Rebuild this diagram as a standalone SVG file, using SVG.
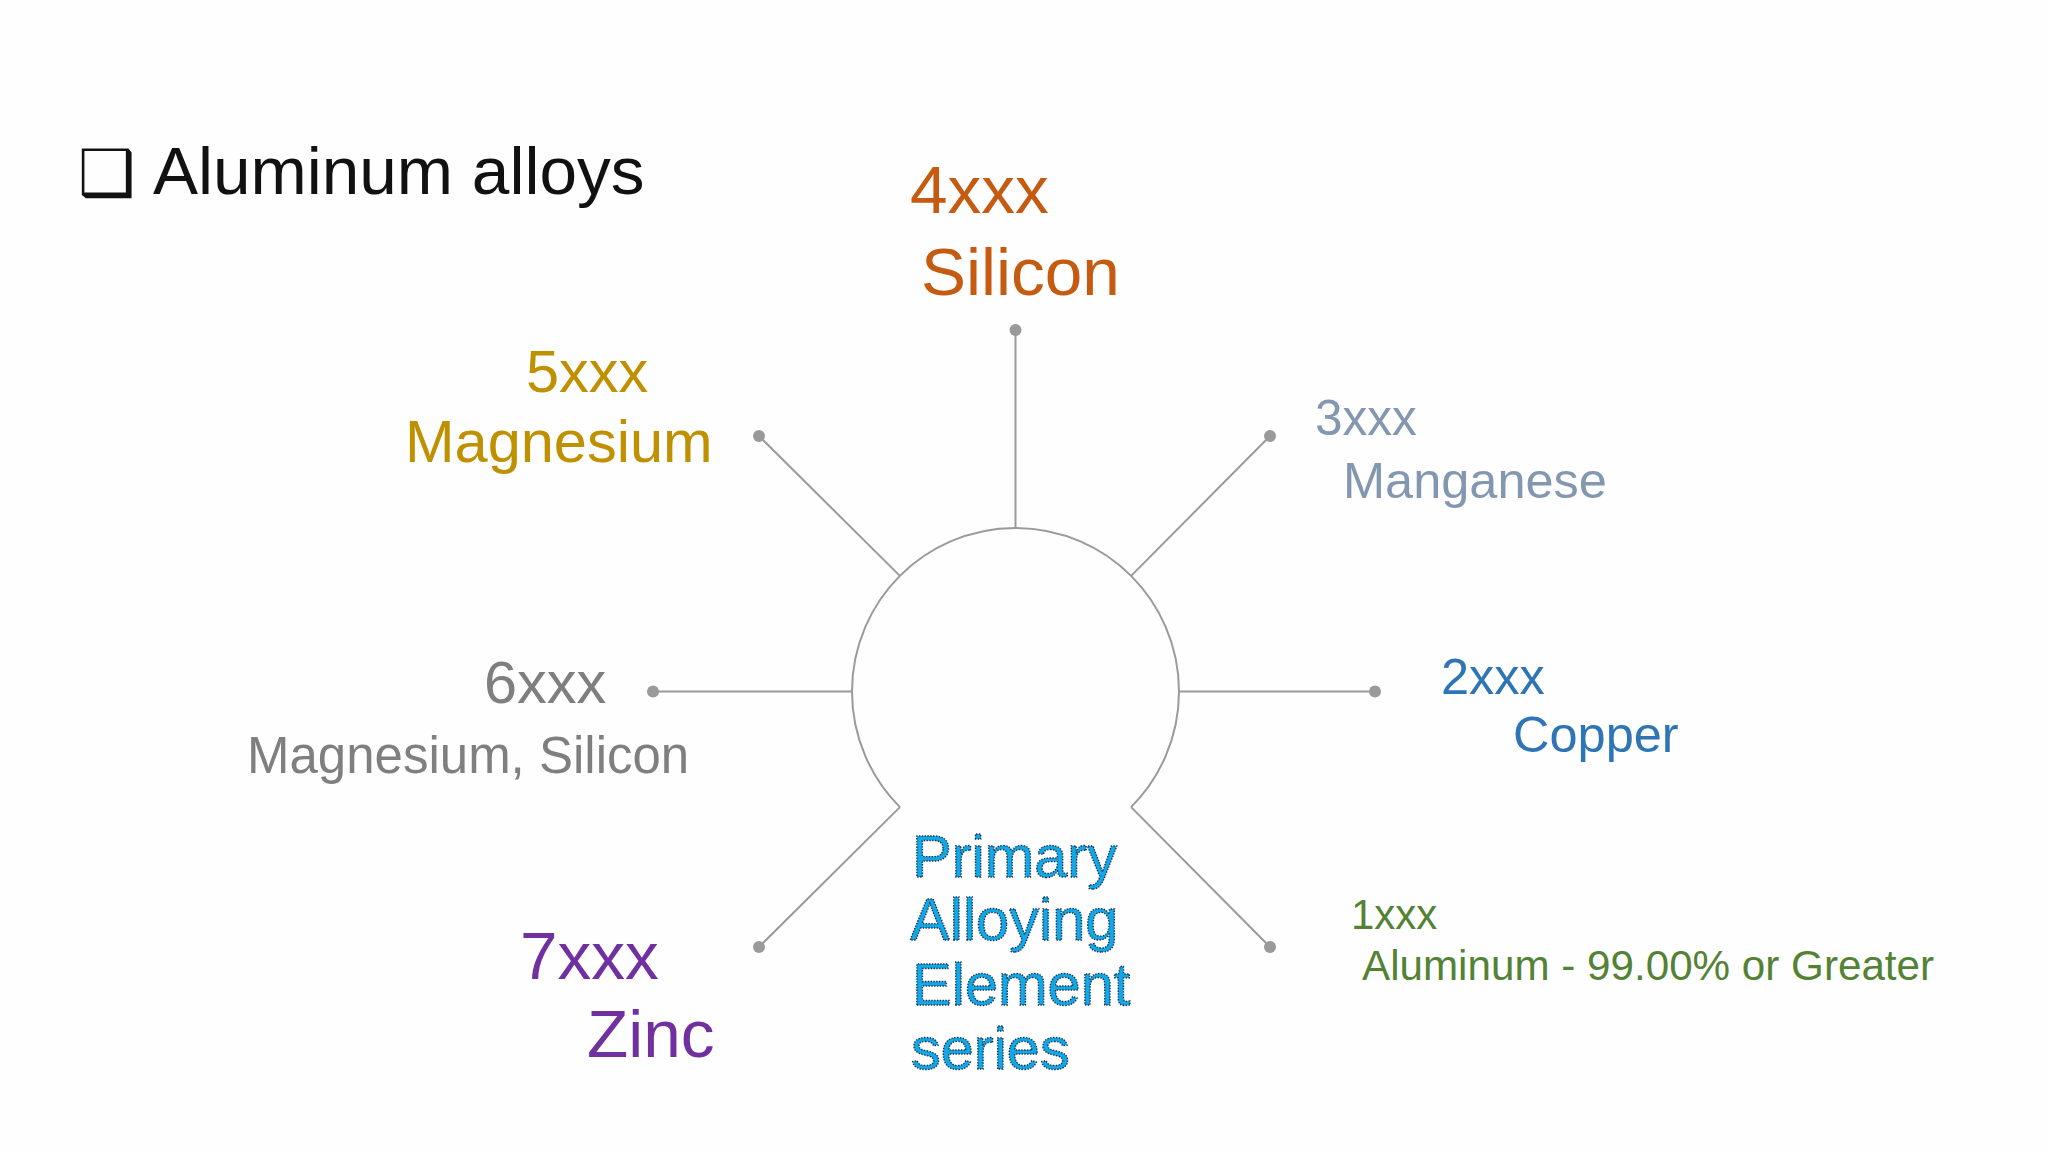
<svg xmlns="http://www.w3.org/2000/svg" width="2048" height="1152" viewBox="0 0 2048 1152">
<style>
text{font-family:"Liberation Sans",Arial,sans-serif}
.ln{stroke:#9a9a9a;stroke-width:2;fill:none}
.dot{fill:#9a9a9a}
.prim{fill:#12a8e6;stroke:#1c2c4c;stroke-width:1.4;stroke-dasharray:1.4 1.4}
</style>
<rect width="2048" height="1152" fill="#fefefe"/>
<g id="title">
<text x="78" y="195" font-family="DejaVu Sans" font-size="64" fill="#111">❑</text>
<text x="153" y="194" font-size="67.5" fill="#111">Aluminum alloys</text>
</g>
<g id="connectors">
<line class="ln" x1="1015.5" y1="528" x2="1015.5" y2="330" stroke-width="3"/>
<line class="ln" x1="899.9" y1="575.9" x2="759" y2="436"/>
<line class="ln" x1="1131.1" y1="575.9" x2="1270" y2="436"/>
<line class="ln" x1="852" y1="691.5" x2="653" y2="691.5"/>
<line class="ln" x1="1179" y1="691.5" x2="1375" y2="691.5"/>
<line class="ln" x1="899.9" y1="807.1" x2="759" y2="947"/>
<line class="ln" x1="1131.1" y1="807.1" x2="1270" y2="947"/>
<circle class="dot" cx="1015.5" cy="330" r="6"/>
<circle class="dot" cx="759" cy="436" r="6"/>
<circle class="dot" cx="1270" cy="436" r="6"/>
<circle class="dot" cx="653" cy="691.5" r="6"/>
<circle class="dot" cx="1375" cy="691.5" r="6"/>
<circle class="dot" cx="759" cy="947" r="6"/>
<circle class="dot" cx="1270" cy="947" r="6"/>
</g>
<g id="center">
<path class="ln" d="M 899.9 807.1 A 163.5 163.5 0 1 1 1131.1 807.1"/>
<text class="prim" x="912" y="877" font-size="59.5">Primary</text>
<text class="prim" x="910" y="940" font-size="59.5">Alloying</text>
<text class="prim" x="912" y="1005" font-size="59.5">Element</text>
<text class="prim" x="911" y="1069" font-size="59.5">series</text>
</g>
<g id="n4xxx" fill="#C55A11">
<text x="910" y="213" font-size="67.5">4xxx</text>
<text x="921" y="295" font-size="67.5">Silicon</text>
</g>
<g id="n5xxx" fill="#BF9000">
<text x="526" y="392" font-size="59.5">5xxx</text>
<text x="405" y="462" font-size="59.5">Magnesium</text>
</g>
<g id="n3xxx" fill="#8497B0">
<text x="1315" y="435" font-size="49.5">3xxx</text>
<text x="1343" y="498" font-size="50.5">Manganese</text>
</g>
<g id="n6xxx" fill="#7F7F7F">
<text x="484" y="703" font-size="59.5">6xxx</text>
<text x="247" y="773" font-size="51">Magnesium, Silicon</text>
</g>
<g id="n2xxx" fill="#2E75B6">
<text x="1441" y="694" font-size="50.5">2xxx</text>
<text x="1513" y="752" font-size="50.5">Copper</text>
</g>
<g id="n7xxx" fill="#7030A0">
<text x="520" y="979" font-size="67.5">7xxx</text>
<text x="587" y="1057" font-size="67.5">Zinc</text>
</g>
<g id="n1xxx" fill="#548235">
<text x="1351" y="929" font-size="42">1xxx</text>
<text x="1362" y="980" font-size="42.2">Aluminum - 99.00% or Greater</text>
</g>
</svg>
